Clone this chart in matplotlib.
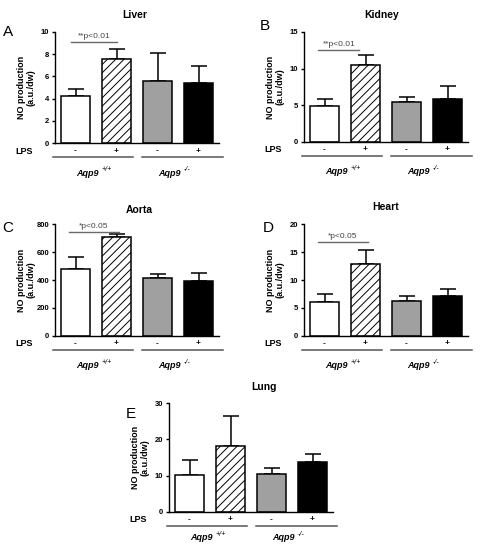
import matplotlib.pyplot as plt
import matplotlib.transforms as mtransforms
import numpy as np

plt.rcParams['font.family'] = ['Liberation Sans', 'DejaVu Sans']
plt.rcParams['hatch.linewidth'] = 0.7

W, H = 482, 550

# data (mean, sem) per organ, bars: WT -, WT +, KO -, KO +
organs = ['Liver', 'Kidney', 'Aorta', 'Heart', 'Lung']
letters = ['A', 'B', 'C', 'D', 'E']
lps = ['-', '+', '-', '+']
genotypes = ['+/+', '-/-']

liver_mean = [4.2, 7.6, 5.6, 5.4]
liver_sem = [0.7, 0.9, 2.55, 1.55]
kidney_mean = [4.9, 10.5, 5.4, 5.9]
kidney_sem = [0.9, 1.3, 0.7, 1.8]
aorta_mean = [480, 710, 415, 390]
aorta_sem = [85, 18, 25, 62]
heart_mean = [6.0, 12.9, 6.3, 7.1]
heart_sem = [1.5, 2.4, 0.8, 1.3]
lung_mean = [10.3, 18.2, 10.5, 13.8]
lung_sem = [4.1, 8.1, 1.7, 2.3]

means = [liver_mean, kidney_mean, aorta_mean, heart_mean, lung_mean]
sems = [liver_sem, kidney_sem, aorta_sem, heart_sem, lung_sem]
ymax = [10, 15, 800, 20, 30]
ystep = [2, 5, 200, 5, 10]
sig_text = ['**p<0.01', '**p<0.01', '*p<0.05', '*p<0.05', None]
sig_y = [9.1, 12.5, 743, 16.8, None]

# layout in pixels: left, top, right, bottom of each plot area
boxes = [(55, 32, 219, 143), (304, 32, 468, 142), (55, 224, 219, 336),
         (304, 224, 468, 336), (169, 403, 333, 512)]
letter_pos = [(8, 32), (265, 26), (8, 228), (268, 228), (131, 414)]
title_pos = [(135, 15), (382, 15), (139, 210), (386, 207), (264, 387)]

colors = ['white', 'white', '#a0a0a0', 'black']
hatches = ['', '////', '', '']

fig = plt.figure(figsize=(W / 100, H / 100), dpi=100)

for i, organ in enumerate(organs):
    l, t, r, b = boxes[i]
    ax = fig.add_axes([l / W, 1 - b / H, (r - l) / W, (b - t) / H])
    x = np.arange(4)
    ax.bar(x, means[i], width=0.7, color=colors, edgecolor='black',
           linewidth=1.1, hatch=hatches, zorder=2)
    ax.errorbar(x, means[i], yerr=[np.zeros(4), sems[i]], fmt='none',
                ecolor='black', elinewidth=1.1, capsize=6, capthick=1.1, zorder=1)
    ax.set_xlim(-0.5, 3.5)
    ax.set_ylim(0, ymax[i])
    ax.set_yticks(np.arange(0, ymax[i] + 1e-9, ystep[i]))
    ax.set_xticks([])
    for s in ['top', 'right']:
        ax.spines[s].set_visible(False)
    ax.spines['left'].set_linewidth(1.0)
    ax.spines['bottom'].set_linewidth(1.0)
    ax.tick_params(axis='y', direction='out', length=2.5, width=1,
                   labelsize=5.5, pad=1.5)
    for lab in ax.get_yticklabels():
        lab.set_fontweight('bold')
    ax.set_ylabel('NO production\n(a.u./dw)', fontsize=6.5, fontweight='bold',
                  linespacing=1.1)
    ax.yaxis.set_label_coords(-0.12, 0.5)

    # labels under the axis
    tr = mtransforms.blended_transform_factory(ax.transData, ax.transAxes)
    hpx = b - t
    for j in range(4):
        ax.text(j, -8 / hpx, lps[j], transform=tr, ha='center', va='center',
                fontsize=6, fontweight='bold')
    ax.text(-0.5 - 22 / 41, -8 / hpx, 'LPS', transform=tr, ha='right',
            va='center', fontsize=6.5, fontweight='bold')
    ax.plot([-0.54, 1.41], [-14 / hpx] * 2, transform=tr, color='#555555',
            lw=1.1, clip_on=False)
    ax.plot([1.63, 3.59], [-14 / hpx] * 2, transform=tr, color='#555555',
            lw=1.1, clip_on=False)
    gy = -30 / hpx if i < 4 else -26 / hpx
    for k, g in enumerate(genotypes):
        cx = 0.5 + 2 * k
        ax.text(cx + 3 / 41, gy, 'Aqp9', transform=tr, ha='right', va='center',
                fontsize=6.5, fontweight='bold', fontstyle='italic')
        ax.text(cx + 6 / 41, gy + 3.5 / hpx, g, transform=tr, ha='left',
                va='center', fontsize=5, fontstyle='italic')

    # significance bar
    if sig_text[i]:
        x0, x1 = (-0.1, 1.0) if i == 0 else (-0.15, 1.05)
        if i == 1:
            x1 = 0.85
        ax.plot([x0, x1], [sig_y[i]] * 2, color='#6a6a6a', lw=1.0, clip_on=False)
        ax.annotate(sig_text[i], xy=((x0 + x1) / 2, sig_y[i]), xytext=(0, 1.5),
                    textcoords='offset points', ha='center', va='bottom',
                    fontsize=6, color='#444444', annotation_clip=False)

    fig.text(title_pos[i][0] / W, 1 - title_pos[i][1] / H, organ,
             ha='center', va='center', fontsize=7.5, fontweight='bold')
    fig.text(letter_pos[i][0] / W, 1 - letter_pos[i][1] / H, letters[i],
             ha='center', va='center', fontsize=11)

fig.savefig('out.png', dpi=100)
